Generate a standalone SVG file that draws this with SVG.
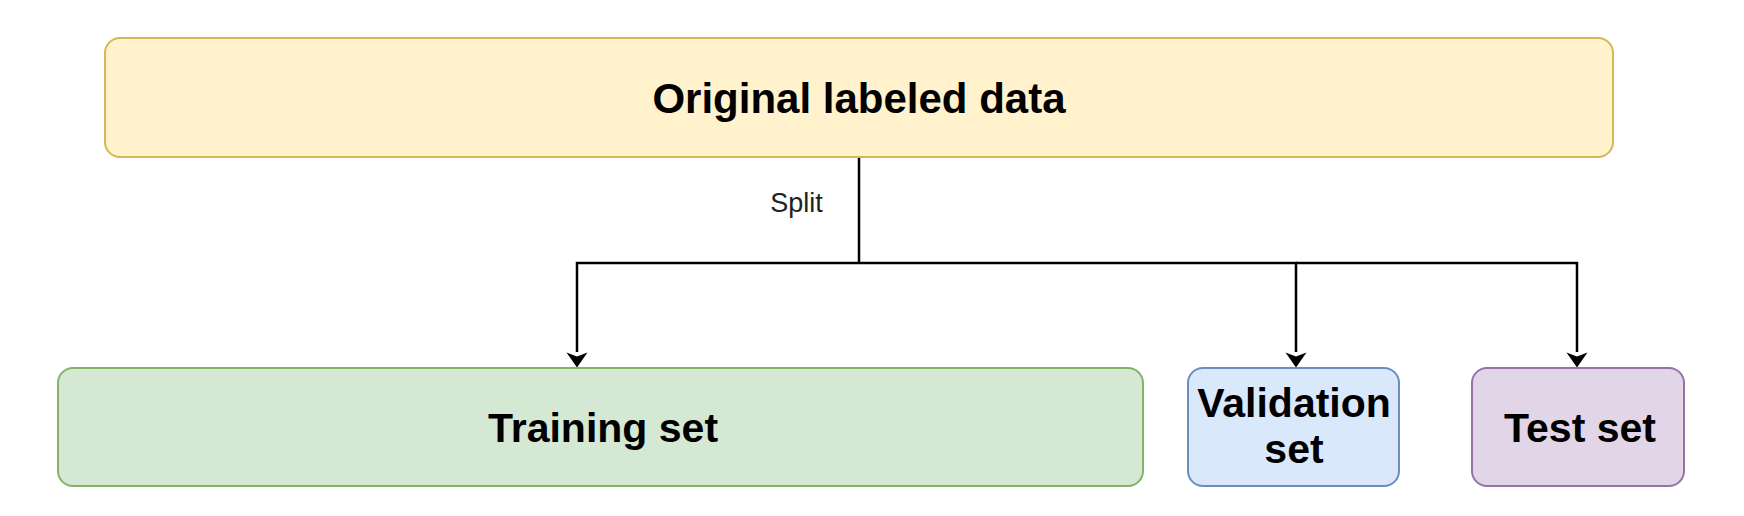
<svg xmlns="http://www.w3.org/2000/svg" width="1744" height="516" viewBox="0 0 1744 516">
<defs>
<style>
.node rect{stroke-width:2}
.lbl{font-family:"Liberation Sans",Arial,sans-serif;font-weight:bold;font-size:41px;fill:#000;text-anchor:middle}
.edge{fill:none;stroke:#000;stroke-width:2.5}
.elbl{font-family:"Liberation Sans",Arial,sans-serif;font-size:27px;fill:#222;text-anchor:middle}
</style>
<marker id="arr" markerUnits="userSpaceOnUse" viewBox="0 0 22 16" refX="11" refY="15" markerWidth="22" markerHeight="16" orient="auto-start-reverse">
<path d="M0.5,1 L11,15.5 L21.5,1 L11,5 Z" fill="#000" transform="rotate(0)"/>
</marker>
</defs>
<rect width="1744" height="516" fill="#fff"/>
<g id="connectors">
<polyline class="edge" points="859,157 859,263"/>
<polyline class="edge" points="859,263 577,263 577,352"/>
<polyline class="edge" points="859,263 1296,263 1296,352"/>
<polyline class="edge" points="1296,263 1577,263 1577,352"/>
<path d="M566.5,352.5 L577,367.5 L587.5,352.5 L577,356.5 Z" fill="#000"/>
<path d="M1285.5,352.5 L1296,367.5 L1306.5,352.5 L1296,356.5 Z" fill="#000"/>
<path d="M1566.5,352.5 L1577,367.5 L1587.5,352.5 L1577,356.5 Z" fill="#000"/>
<text class="elbl" x="796.5" y="212">Split</text>
</g>
<g id="original" class="node">
<rect x="105" y="38" width="1508" height="119" rx="15" fill="#fff2cc" stroke="#d6b656"/>
<text class="lbl" x="859" y="113" style="font-size:42px">Original labeled data</text>
</g>
<g id="training" class="node">
<rect x="58" y="368" width="1085" height="118" rx="15" fill="#d5e8d4" stroke="#82b366"/>
<text class="lbl" x="603" y="442">Training set</text>
</g>
<g id="validation" class="node">
<rect x="1188" y="368" width="211" height="118" rx="15" fill="#dae8fc" stroke="#6c8ebf"/>
<text class="lbl" x="1294" y="417">Validation</text>
<text class="lbl" x="1294" y="463">set</text>
</g>
<g id="test" class="node">
<rect x="1472" y="368" width="212" height="118" rx="15" fill="#e1d5e7" stroke="#9673a6"/>
<text class="lbl" x="1580" y="442">Test set</text>
</g>
</svg>
